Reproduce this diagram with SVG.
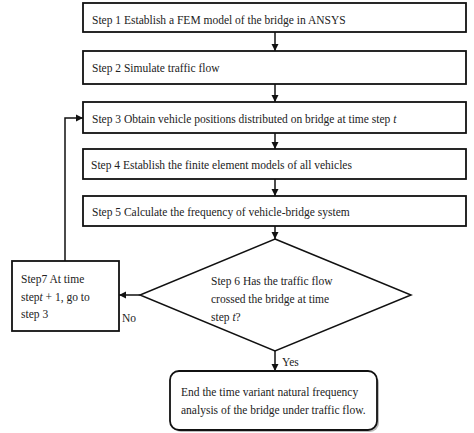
<svg xmlns="http://www.w3.org/2000/svg" width="474" height="433" viewBox="0 0 474 433">
<style>
.box{fill:#fff;stroke:#111;stroke-width:1.8}
.ln{fill:none;stroke:#111;stroke-width:1.5}
</style>
<defs>
<marker id="ah" markerWidth="8" markerHeight="8" refX="7" refY="4" orient="auto" markerUnits="userSpaceOnUse">
<path d="M0,0.5 L7,4 L0,7.5 Z" fill="#111"/>
</marker>
</defs>
<rect width="474" height="433" fill="#fff"/>
<g id="connectors">
<line class="ln" x1="275" y1="32" x2="275" y2="51" marker-end="url(#ah)"/>
<line class="ln" x1="275" y1="84" x2="275" y2="102" marker-end="url(#ah)"/>
<line class="ln" x1="275" y1="133" x2="275" y2="149" marker-end="url(#ah)"/>
<line class="ln" x1="275" y1="179" x2="275" y2="196" marker-end="url(#ah)"/>
<line class="ln" x1="275" y1="226" x2="275" y2="239" marker-end="url(#ah)"/>
<line class="ln" x1="140" y1="295" x2="119" y2="295" marker-end="url(#ah)"/>
<line class="ln" x1="275" y1="351" x2="275" y2="371" marker-end="url(#ah)"/>
<polyline class="ln" points="65,261 65,118 83,118" marker-end="url(#ah)"/>
<text x="122" y="322" font-family="Times New Roman" font-size="11.5" fill="#222">No</text>
<text x="282" y="366" font-family="Times New Roman" font-size="11.5" fill="#222">Yes</text>
</g>
<g id="step1">
<rect class="box" x="83" y="3" width="383" height="29"/>
<text x="92" y="24" font-family="Times New Roman" font-size="11.5" fill="#222">Step 1 Establish a FEM model of the bridge in ANSYS</text>
</g>
<g id="step2">
<rect class="box" x="83" y="51" width="383" height="33"/>
<text x="92" y="72" font-family="Times New Roman" font-size="11.5" fill="#222">Step 2 Simulate traffic flow</text>
</g>
<g id="step3">
<rect class="box" x="83" y="102" width="383" height="31"/>
<text x="92" y="123" font-family="Times New Roman" font-size="11.5" fill="#222">Step 3 Obtain vehicle positions distributed on bridge at time step <tspan font-style="italic">t</tspan></text>
</g>
<g id="step4">
<rect class="box" x="83" y="149" width="383" height="30"/>
<text x="91" y="169" font-family="Times New Roman" font-size="11.5" fill="#222">Step 4 Establish the finite element models of all vehicles</text>
</g>
<g id="step5">
<rect class="box" x="83" y="196" width="383" height="30"/>
<text x="92" y="216" font-family="Times New Roman" font-size="11.5" fill="#222">Step 5 Calculate the frequency of vehicle-bridge system</text>
</g>
<g id="step6">
<polygon class="ln" points="275,239 411,295 275,351 140,295" style="fill:#fff"/>
<text x="211" y="285" font-family="Times New Roman" font-size="11.5" fill="#222">Step 6 Has the traffic flow</text>
<text x="211" y="303" font-family="Times New Roman" font-size="11.5" fill="#222">crossed the bridge at time</text>
<text x="211" y="321" font-family="Times New Roman" font-size="11.5" fill="#222">step <tspan font-style="italic">t</tspan>?</text>
</g>
<g id="step7">
<rect class="box" x="12" y="261" width="107" height="70"/>
<text x="21" y="283" font-family="Times New Roman" font-size="11.5" fill="#222">Step7 At time</text>
<text x="21" y="301" font-family="Times New Roman" font-size="11.5" fill="#222">step<tspan font-style="italic">t</tspan> + 1, go to</text>
<text x="21" y="318" font-family="Times New Roman" font-size="11.5" fill="#222">step 3</text>
</g>
<g id="end">
<rect x="172" y="374" width="207" height="58" rx="9" fill="#bbb"/>
<rect class="box" x="170" y="371" width="207" height="59" rx="9"/>
<text x="181" y="396" font-family="Times New Roman" font-size="11.5" fill="#222">End the time variant natural frequency</text>
<text x="181" y="414" font-family="Times New Roman" font-size="11.5" fill="#222">analysis of the bridge under traffic flow.</text>
</g>
</svg>
